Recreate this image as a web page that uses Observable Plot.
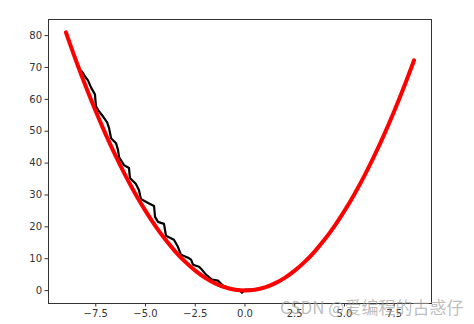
<!DOCTYPE html>
<html>
<head>
<meta charset="utf-8">
<script src="https://cdn.jsdelivr.net/npm/d3@7"></script>
<script src="https://cdn.jsdelivr.net/npm/@observablehq/plot@0.6"></script>
<style>
  html, body { margin: 0; padding: 0; background: #fff; }
  #wrap { position: relative; width: 474px; height: 324px; }
  #wm { position: absolute; left: 280px; top: 294px; font: 17px "Noto Sans CJK SC", "DejaVu Sans", sans-serif;
        color: rgba(160,160,160,0.7); white-space: nowrap; }
</style>
</head>
<body>
<div id="wrap"><div id="wm">CSDN @爱编程的古惑仔</div></div>
<script>
// red curve
const curveX = [-9, -8.5, -8, -7.5, -7, -6.5, -6, -5.5, -5, -4.5, -4, -3.5, -3, -2.5, -2, -1.5, -1, -0.5, 0, 0.5, 1, 1.5, 2, 2.5, 3, 3.5, 4, 4.5, 5, 5.5, 6, 6.5, 7, 7.5, 8, 8.5];
const curveY = [81, 72.25, 64, 56.25, 49, 42.25, 36, 30.25, 25, 20.25, 16, 12.25, 9, 6.25, 4, 2.25, 1, 0.25, 0, 0.25, 1, 2.25, 4, 6.25, 9, 12.25, 16, 20.25, 25, 30.25, 36, 42.25, 49, 56.25, 64, 72.25];
// black noisy path
const pathX = [-8.19, -8.04, -7.89, -7.74, -7.54, -7.49, -7.34, -7.14, -6.93, -6.83, -6.73, -6.48, -6.38, -6.33, -6.08, -5.83, -5.78, -5.48, -5.33, -5.23, -4.87, -4.57, -4.52, -4.37, -4.07, -3.97, -3.57, -3.37, -3.22, -2.86, -2.71, -2.61, -2.31, -2.21, -1.96, -1.66, -1.36, -1.11, -0.70, -0.30, -0.15, 0.0, 0.30];
const pathY = [68.75, 67.19, 65.94, 63.75, 61.56, 57.81, 56.25, 54.69, 52.81, 50.94, 47.81, 46.25, 44.06, 41.88, 39.38, 38.44, 35.31, 33.44, 31.56, 28.75, 27.5, 26.56, 23.13, 21.56, 20.94, 17.19, 15.94, 13.75, 11.25, 10.31, 9.69, 8.13, 7.5, 6.88, 5.0, 3.44, 3.13, 1.56, 0.63, 0.31, -0.63, 0.31, 0.31];
const xTicks = [-7.5, -5.0, -2.5, 0.0, 2.5, 5.0, 7.5];
const yTicks = [0, 10, 20, 30, 40, 50, 60, 70, 80];

const curve = curveX.map((x, i) => ({x, y: curveY[i]}));
const path = pathX.map((x, i) => ({x, y: pathY[i]}));

const chart = Plot.plot({
  width: 474,
  height: 324,
  marginLeft: 48,
  marginRight: 43,
  marginTop: 19,
  marginBottom: 21,
  style: {fontFamily: "DejaVu Sans, sans-serif", fontSize: "10px", color: "#333", background: "#fff"},
  x: {domain: [-9.875, 9.375], ticks: xTicks, tickFormat: d3.format(".1f"), label: null, tickSize: 3.5, tickPadding: 3},
  y: {domain: [-4.05, 85.05], ticks: yTicks, label: null, tickSize: 3.5, tickPadding: 3},
  marks: [
    Plot.line(path, {x: "x", y: "y", stroke: "#000", strokeWidth: 2.2}),
    Plot.line(curve, {x: "x", y: "y", stroke: "#ff0000", strokeWidth: 4, curve: "catmull-rom"}),
    Plot.frame({stroke: "#333", strokeWidth: 1})
  ]
});
document.getElementById("wrap").prepend(chart);
chart.style.position = "absolute";
chart.style.left = "0";
chart.style.top = "0";
</script>
</body>
</html>
